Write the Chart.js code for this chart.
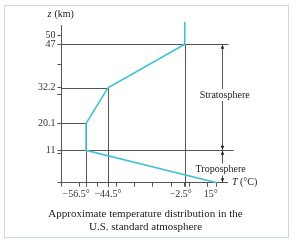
<!DOCTYPE html>
<html>
<head>
<meta charset="utf-8">
<script src="https://cdn.jsdelivr.net/npm/chart.js@4"></script>
<style>
  body { margin: 0; background: #fff; }
  #wrap { position: relative; width: 299px; height: 247px; }
  #frame { position: absolute; left: 4px; top: 5px; width: 283px; height: 231px; border: 1px solid #cdd8e3; }
  #caption { position: absolute; left: 0; width: 291px; top: 207px; text-align: center;
             font: 11px "Liberation Serif", serif; line-height: 13px; color: #222; }
  canvas { position: absolute; left: 0; top: 0; }
</style>
</head>
<body>
<div id="wrap">
  <div id="frame"></div>
  <canvas id="atmos" width="299" height="247"></canvas>
  <div id="caption">Approximate temperature distribution in the<br>U.S. standard atmosphere</div>
</div>
<script>
// temperature profile (deg C) vs altitude (km)
const tempC = [15, -56.5, -56.5, -44.5, -2.5, -2.5];
const altKm = [0, 11, 20.1, 32.2, 47, 54.5];

// axis ticks
const yTickValues = [0, 10, 11, 20, 20.1, 30, 32.2, 40, 47, 50];
const yTickLabels = ['', '', '11', '', '20.1', '', '32.2', '', '47', '50'];
const xTickValues = [-70, -60, -56.5, -50, -44.5, -40, -30, -20, -10, -2.5, 0, 10, 15];
const xLabelValues = [-56.5, -44.5, -2.5, 15];
const xLabelText = ['\u221256.5\u00b0', '\u221244.5\u00b0', '\u22122.5\u00b0', '15\u00b0'];
const xLabelShift = [-10, 0, -4, -6];   // px, as set in the figure

// layers
const layerNames = ['Troposphere', 'Stratosphere'];
const layerBounds = [0, 11, 47];
const dimX = 17.7;

const lineColor = '#3fc1d2';
const gray = '#555';
const serif = '"Liberation Serif", serif';

function arrow(ctx, x, y, dir) {
    ctx.beginPath();
    ctx.moveTo(x, y);
    ctx.lineTo(x - 1.8, y - 4 * dir);
    ctx.lineTo(x + 1.8, y - 4 * dir);
    ctx.closePath();
    ctx.fill();
}

const guides = {
    id: 'guides',
    beforeDatasetsDraw(chart) {
        const ctx = chart.ctx;
        const xs = chart.scales.x, ys = chart.scales.y;
        const x0 = xs.getPixelForValue(xs.min);
        const y0 = ys.getPixelForValue(0);
        const dx = Math.round(xs.getPixelForValue(dimX)) + 0.5;
        ctx.save();
        ctx.strokeStyle = gray;
        ctx.lineWidth = 1;
        // guide lines from each break point
        for (let i = 1; i < 5; i++) {
            const px = Math.round(xs.getPixelForValue(tempC[i])) + 0.5;
            const py = Math.round(ys.getPixelForValue(altKm[i])) + 0.5;
            let end = px;
            if (altKm[i] === layerBounds[1]) end = dx + 11;
            if (altKm[i] === layerBounds[2]) end = dx + 6;
            ctx.beginPath();
            ctx.moveTo(x0, py);
            ctx.lineTo(end, py);
            ctx.moveTo(px, py);
            ctx.lineTo(px, y0 + 4);
            ctx.stroke();
        }
        // dimension lines for layers
        ctx.fillStyle = '#222';
        for (let i = 0; i < layerNames.length; i++) {
            const yb = ys.getPixelForValue(layerBounds[i]);
            const yt = ys.getPixelForValue(layerBounds[i + 1]);
            ctx.beginPath();
            ctx.moveTo(dx, yb);
            ctx.lineTo(dx, yt);
            ctx.stroke();
            arrow(ctx, dx, yt + 0.5, -1);
            arrow(ctx, dx, yb - 0.5, 1);
        }
        ctx.restore();
    },
    afterDatasetsDraw(chart) {
        const ctx = chart.ctx;
        const xs = chart.scales.x, ys = chart.scales.y;
        const dx = xs.getPixelForValue(dimX);
        ctx.save();
        ctx.font = '10px ' + serif;
        ctx.textAlign = 'center';
        ctx.textBaseline = 'middle';
        const offs = [-1, 3];
        const yAdj = [3, -2];
        for (let i = 0; i < layerNames.length; i++) {
            const mid = (ys.getPixelForValue(layerBounds[i]) + ys.getPixelForValue(layerBounds[i + 1])) / 2;
            const cx = dx + offs[i];
            const cy = mid + yAdj[i];
            const w = ctx.measureText(layerNames[i]).width;
            ctx.fillStyle = '#fff';
            ctx.fillRect(cx - w / 2 - 1, cy - 6, w + 2, 12);
            ctx.fillStyle = '#222';
            ctx.fillText(layerNames[i], cx, cy);
        }
        // x tick labels
        const yl = ys.getPixelForValue(0) + 12;
        ctx.fillStyle = '#333';
        xLabelValues.forEach((v, i) => {
            ctx.fillText(xLabelText[i], xs.getPixelForValue(v) + xLabelShift[i], yl);
        });
        // axis titles
        ctx.fillStyle = '#222';
        const ax = xs.getPixelForValue(xs.min);
        ctx.font = 'italic 10px ' + serif;
        ctx.textAlign = 'left';
        ctx.fillText('z', ax - 14, 14);
        ctx.font = '10px ' + serif;
        ctx.fillText('(km)', ax - 7, 14);
        const tx = xs.getPixelForValue(xs.max) + 5;
        const ty = ys.getPixelForValue(0);
        ctx.font = 'italic 10px ' + serif;
        ctx.fillText('T', tx, ty);
        ctx.font = '10px ' + serif;
        ctx.fillText('(\u00b0C)', tx + 8, ty);
        ctx.restore();
    }
};

new Chart('atmos', {
    type: 'scatter',
    data: {
        datasets: [{
            data: tempC.map((t, i) => ({ x: t, y: altKm[i] })),
            showLine: true,
            borderColor: lineColor,
            borderWidth: 1.6,
            pointRadius: 0,
            fill: false,
            clip: false
        }]
    },
    options: {
        responsive: false,
        animation: false,
        layout: { padding: { left: 0, right: 72, top: 25, bottom: 0 } },
        plugins: { legend: { display: false }, tooltip: { enabled: false } },
        scales: {
            x: {
                type: 'linear',
                min: -70,
                max: 20.6,
                afterFit: s => { s.height = 64.3; },
                afterBuildTicks: s => { s.ticks = xTickValues.map(v => ({ value: v })); },
                grid: { drawOnChartArea: false, tickLength: 4, color: gray },
                border: { color: gray },
                ticks: { display: false }
            },
            y: {
                type: 'linear',
                min: 0,
                max: 53.5,
                afterFit: s => { s.width = 61.4; },
                afterBuildTicks: s => { s.ticks = yTickValues.map(v => ({ value: v })); },
                grid: { drawOnChartArea: false, tickLength: 4, color: gray },
                border: { color: gray },
                ticks: {
                    autoSkip: false,
                    padding: 2,
                    color: '#333',
                    font: { family: serif, size: 10 },
                    callback: v => yTickLabels[yTickValues.indexOf(v)] || ''
                }
            }
        }
    },
    plugins: [guides]
});
</script>
</body>
</html>
